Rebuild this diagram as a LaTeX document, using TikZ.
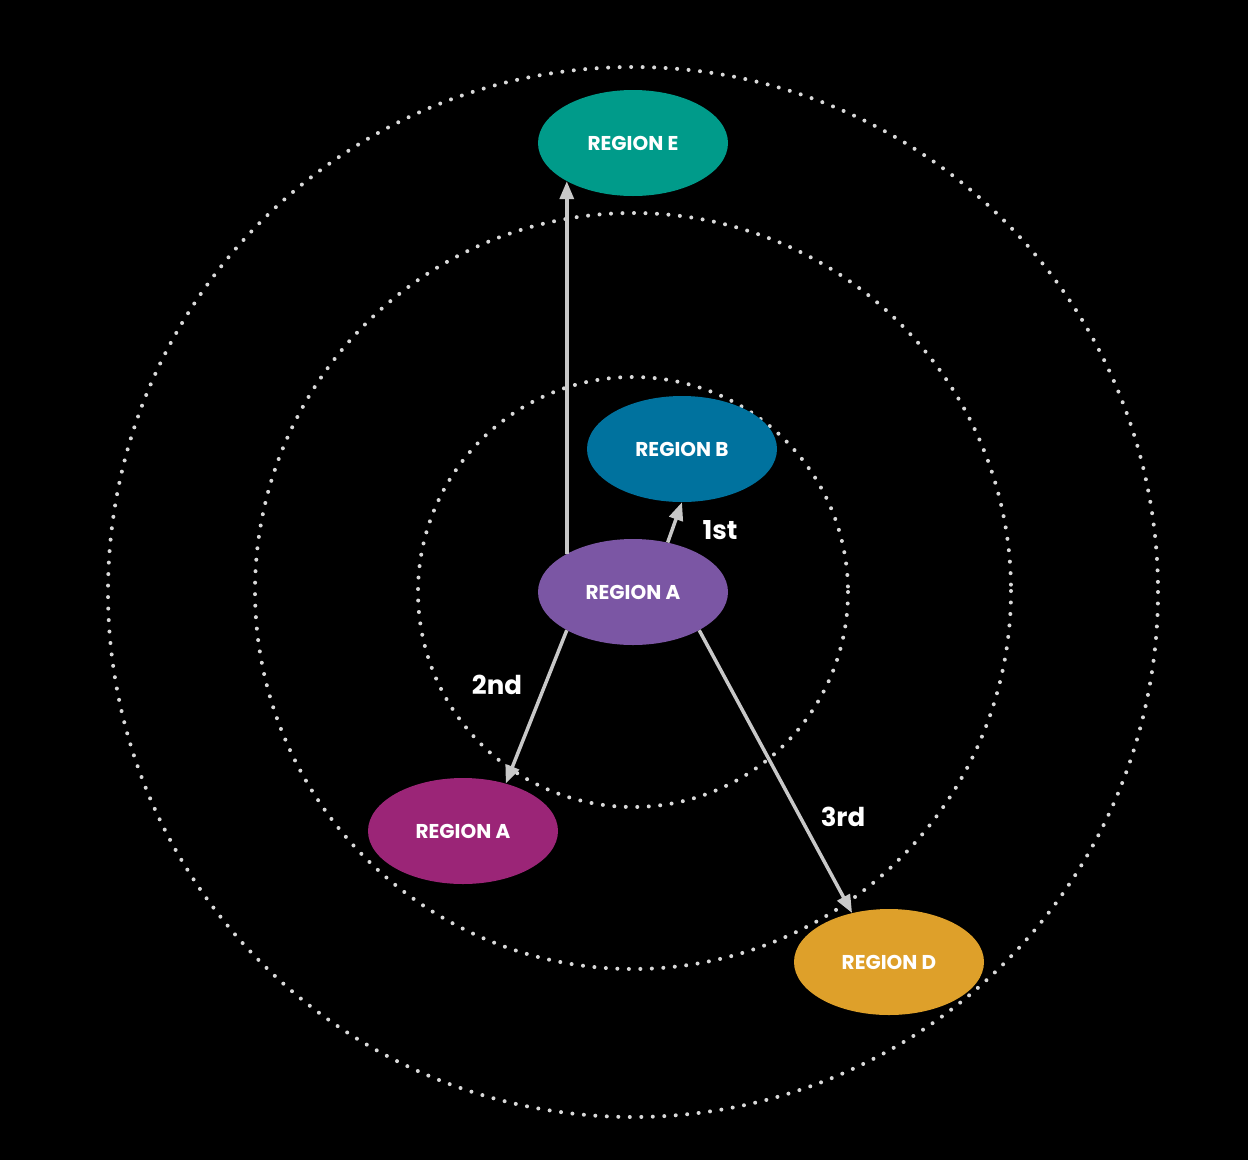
\documentclass[tikz,border=0pt]{standalone}
\usepackage{fontspec}
\setmainfont{Poppins}
\usetikzlibrary{arrows.meta,shapes.geometric}
\definecolor{cE}{HTML}{009B8A}
\definecolor{cB}{HTML}{00729E}
\definecolor{cA}{HTML}{7B56A4}
\definecolor{cA2}{HTML}{9B2577}
\definecolor{cD}{HTML}{DEA02A}
\definecolor{arr}{HTML}{C8C8C8}
\begin{document}
\begin{tikzpicture}[x=1pt,y=-1pt,
  ring/.style={draw=white!85!black,line width=4pt,line cap=round,dash pattern=on 0pt off 11.5pt},
  reg/.style={ellipse,minimum width=190pt,minimum height=106pt,inner sep=0pt,text=white,font=\bfseries\fontsize{20}{24}\selectfont},
  con/.style={draw=arr,line width=3.5pt,-{Triangle[length=18pt,width=14pt]}},
  lab/.style={text=white,font=\bfseries\fontsize{26}{30}\selectfont}]
\path[fill=black,use as bounding box] (0,0) rectangle (1248,1160);
\draw[ring] (633,592) circle[radius=525];
\draw[ring] (633,591) circle[radius=378];
\draw[ring] (633,592) circle[radius=215];
\node[reg,fill=cE] (E) at (633,143) {REGION E};
\node[reg,fill=cB] (B) at (682,449) {REGION B};
\node[reg,fill=cA] (A) at (633,592) {REGION A};
\node[reg,fill=cA2] (A2) at (463,831) {REGION A};
\node[reg,fill=cD] (D) at (889,962) {REGION D};
\draw[con] (A.150) -- (E.210);
\draw[con] (A.55) -- (B.270);
\draw[con] (A.210) -- (A2.48);
\draw[con] (A.330) -- (D.127);
\node[lab] (l1) at (720,530) {1st};
\node[lab] (l2) at (497,685) {2nd};
\node[lab] (l3) at (843,817) {3rd};
\end{tikzpicture}
\end{document}
